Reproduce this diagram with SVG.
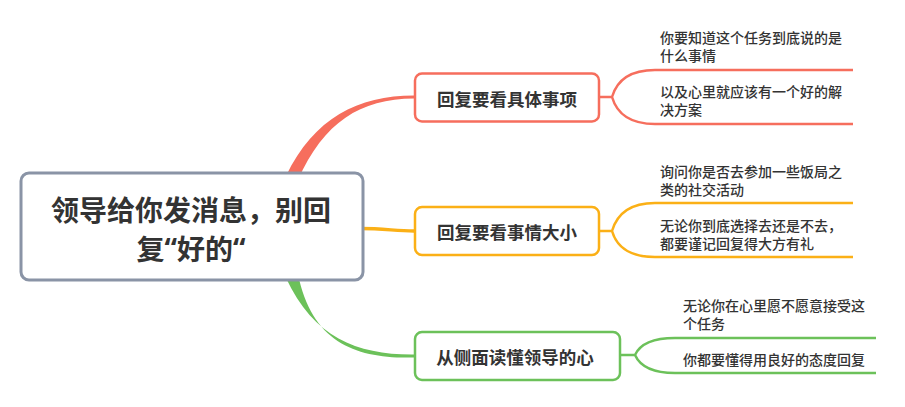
<svg xmlns="http://www.w3.org/2000/svg" width="905" height="407" viewBox="0 0 905 407">
<style>
.t{font-family:"Noto Sans CJK SC","Noto Sans",sans-serif;fill:#333;dominant-baseline:central}
.q{font-family:"Noto Sans","DejaVu Sans",sans-serif}
.root{font-size:28px;font-weight:bold;text-anchor:middle}
.main{font-size:17.5px;font-weight:bold;text-anchor:middle}
.leaf{font-size:14px;font-weight:500}
.red{stroke:#f66e5d}
.org{stroke:#fbb016}
.grn{stroke:#6cc15a}
.ln{fill:none;stroke-width:2.5}
</style>
<rect width="905" height="407" fill="#fff"/>
<g id="connectors">
<path d="M286 176 C314 118,358 95.5,414 95.5 L414 98.5 C360 99,324 122,298 180 Z" fill="#f66e5d"/>
<path d="M286 278 C314 338,358 355,414 354.5 L414 357.5 C358 359,312 344,298 274 Z" fill="#6cc15a"/>
<path d="M360 228.5 C385 228.5,395 231,414 231" fill="none" stroke="#fbb016" stroke-width="3.5"/>
<path class="ln red" d="M599 97 L612 97 M612 97 C617 80,630 70,655 70 L853 70 M612 97 C617 114,630 124,655 124 L853 124"/>
<path class="ln org" d="M599 231 L612 231 M612 231 C617 214,630 203,655 203 L853 203 M612 231 C617 248,630 257,655 257 L853 257"/>
<path class="ln grn" d="M620 355 L635 355 M635 355 C640 344,652 338,675 338 L876 338 M635 355 C640 366,652 373,675 373 L876 373"/>
</g>
<g id="root">
<rect x="21" y="173" width="342" height="107" rx="8" fill="#fff" stroke="#8a94a6" stroke-width="3"/>
<text class="t root" x="191" y="209">领导给你发消息，别回</text>
<text class="t root" x="191" y="248">复<tspan class="q">“</tspan>好的<tspan class="q">“</tspan></text>
</g>
<g id="b1">
<rect x="415" y="73.5" width="184" height="48" rx="7" fill="#fff" stroke="#f66e5d" stroke-width="2.5"/>
<text class="t main" x="507" y="98">回复要看具体事项</text>
</g>
<g id="b2">
<rect x="415" y="207" width="184" height="48" rx="7" fill="#fff" stroke="#fbb016" stroke-width="2.5"/>
<text class="t main" x="507" y="231">回复要看事情大小</text>
</g>
<g id="b3">
<rect x="415" y="332" width="205" height="48" rx="7" fill="#fff" stroke="#6cc15a" stroke-width="2.5"/>
<text class="t main" x="515" y="356">从侧面读懂领导的心</text>
</g>
<g id="l1">
<text class="t leaf" x="660" y="37">你要知道这个任务到底说的是<tspan x="660" dy="18">什么事情</tspan></text>
</g>
<g id="l2">
<text class="t leaf" x="660" y="91">以及心里就应该有一个好的解<tspan x="660" dy="18">决方案</tspan></text>
</g>
<g id="l3">
<text class="t leaf" x="660" y="171">询问你是否去参加一些饭局之<tspan x="660" dy="18">类的社交活动</tspan></text>
</g>
<g id="l4">
<text class="t leaf" x="660" y="225">无论你到底选择去还是不去，<tspan x="660" dy="18">都要谨记回复得大方有礼</tspan></text>
</g>
<g id="l5">
<text class="t leaf" x="683" y="305">无论你在心里愿不愿意接受这<tspan x="683" dy="18">个任务</tspan></text>
</g>
<g id="l6">
<text class="t leaf" x="683" y="359">你都要懂得用良好的态度回复</text>
</g>
</svg>
